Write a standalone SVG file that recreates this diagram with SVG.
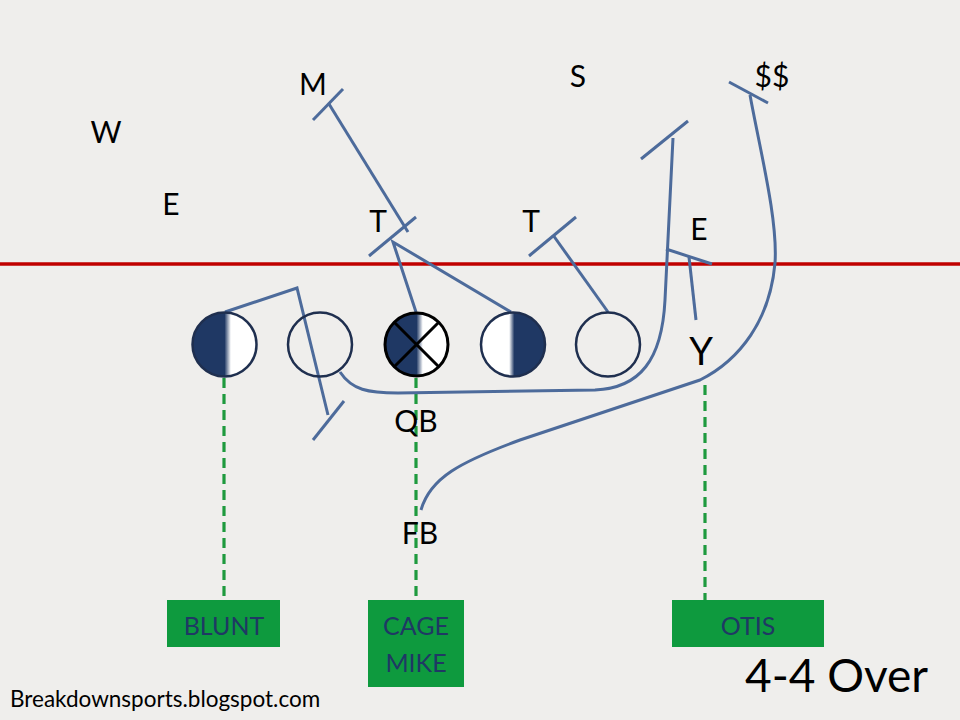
<svg xmlns="http://www.w3.org/2000/svg" width="960" height="720" viewBox="0 0 960 720">
<defs>
<linearGradient id="darkLeft" x1="0" y1="0" x2="1" y2="0">
<stop offset="0" stop-color="#1F3864"/><stop offset="0.5" stop-color="#1F3864"/><stop offset="0.6" stop-color="#FFFFFF"/><stop offset="1" stop-color="#FFFFFF"/>
</linearGradient>
<linearGradient id="darkRight" x1="0" y1="0" x2="1" y2="0">
<stop offset="0" stop-color="#FFFFFF"/><stop offset="0.44" stop-color="#FFFFFF"/><stop offset="0.52" stop-color="#1F3864"/><stop offset="1" stop-color="#1F3864"/>
</linearGradient>
<style>
.lbl{font-family:Lato,"Liberation Sans",sans-serif;font-size:30px;fill:#000;text-anchor:middle}
.box{fill:#0E9A3E}
.btxt{font-family:Lato,"Liberation Sans",sans-serif;font-size:25px;fill:#1F3864;text-anchor:middle}
.route{fill:none;stroke:#4D6B9B;stroke-width:3;stroke-linecap:butt}
.dash{fill:none;stroke:#1E9A3E;stroke-width:3.2;stroke-dasharray:10 6}
.pl{stroke:#1F2F4F;stroke-width:2.5}
</style>
</defs>
<rect width="960" height="720" fill="#EFEEEC"/>
<line x1="0" y1="264" x2="960" y2="264" stroke="#C00000" stroke-width="3.5"/>

<g id="connectors">
<line class="dash" x1="224" y1="378" x2="224" y2="600"/>
<line class="dash" x1="416" y1="378" x2="416" y2="600"/>
<line class="dash" x1="705" y1="385" x2="705" y2="600"/>
<polyline class="route" points="225,312 297,288 328,415"/>
<line class="route" x1="313" y1="440" x2="344" y2="401"/>
<line class="route" x1="408" y1="232" x2="329" y2="104"/>
<line class="route" x1="313" y1="120" x2="343" y2="89"/>
<polyline class="route" points="416,312 393,242 511,312"/>
<line class="route" x1="369" y1="256" x2="416" y2="217"/>
<line class="route" x1="608" y1="312" x2="553" y2="235"/>
<line class="route" x1="529" y1="256" x2="576" y2="217"/>
<path class="route" d="M340,372 C352,390 368,393 398,393 L595,390 C640,388 662,360 665,300 L673,138"/>
<line class="route" x1="641" y1="159" x2="688" y2="121"/>
<line class="route" x1="696" y1="320" x2="689" y2="257"/>
<line class="route" x1="666" y1="249" x2="712" y2="264"/>
<path class="route" d="M421,510 C430,478 460,462 520,440 L700,380 C740,360 770,320 775,263 C778,220 760,150 750,95"/>
<line class="route" x1="729" y1="82" x2="768" y2="103"/>
</g>

<g id="lt"><circle class="pl" cx="224.5" cy="344.5" r="32" fill="url(#darkLeft)"/></g>
<g id="lg"><circle class="pl" cx="320" cy="344.5" r="32" fill="none"/></g>
<g id="c"><circle cx="416.5" cy="344.5" r="31.5" fill="url(#darkLeft)" stroke="#000" stroke-width="3"/>
<line x1="394" y1="322" x2="439" y2="367" stroke="#000" stroke-width="3"/><line x1="439" y1="322" x2="394" y2="367" stroke="#000" stroke-width="3"/></g>
<g id="rg"><circle class="pl" cx="513" cy="344.5" r="32" fill="url(#darkRight)"/></g>
<g id="rt"><circle class="pl" cx="608" cy="344.5" r="32" fill="none"/></g>

<g id="defense">
<text class="lbl" x="106" y="143">W</text>
<text class="lbl" x="171" y="215">E</text>
<text class="lbl" x="313" y="95">M</text>
<text class="lbl" x="578" y="87">S</text>
<text class="lbl" x="772" y="87">$$</text>
<text class="lbl" x="378" y="232">T</text>
<text class="lbl" x="531" y="232">T</text>
<text class="lbl" x="699" y="240">E</text>
</g>
<g id="y"><text class="lbl" x="701" y="365" style="font-size:38px">Y</text></g>
<g id="qb"><text class="lbl" x="416" y="432">QB</text></g>
<g id="fb"><text class="lbl" x="420" y="544">FB</text></g>

<g id="blunt"><rect class="box" x="167" y="600" width="113" height="47"/><text class="btxt" x="224" y="635">BLUNT</text></g>
<g id="cage"><rect class="box" x="368" y="600" width="96" height="87"/><text class="btxt" x="416" y="635">CAGE</text><text class="btxt" x="416" y="672">MIKE</text></g>
<g id="otis"><rect class="box" x="672" y="600" width="152" height="47"/><text class="btxt" x="748" y="635">OTIS</text></g>

<text x="745" y="692" font-family="Lato,'Liberation Sans',sans-serif" font-size="46" fill="#000">4-4 Over</text>
<text x="10" y="707" font-family="Lato,'Liberation Sans',sans-serif" font-size="22.5" fill="#000">Breakdownsports.blogspot.com</text>
</svg>
